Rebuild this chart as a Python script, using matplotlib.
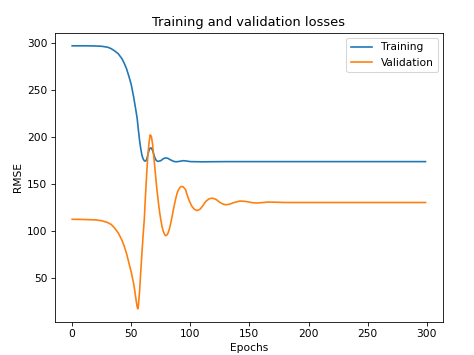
import matplotlib
matplotlib.use("Agg")
import matplotlib.pyplot as plt

# values
train_epochs = [0, 10, 20, 25, 30, 33, 36, 39, 42, 44, 46, 48, 50, 52, 54, 55, 56, 57, 58, 59,
                60, 61, 62, 63, 64, 65, 66, 67, 68, 69, 70, 71, 72, 73, 75, 77, 79, 81, 83, 86,
                88, 91, 94, 97, 100, 110, 130, 150, 200, 250, 299]
train_loss = [297.5, 297.5, 297.3, 297, 296, 294.5, 292, 289, 284, 279, 273, 265, 256, 243, 228, 220, 208, 197, 188, 181,
              177, 175, 174.5, 176, 181, 186, 188.5, 188.5, 186, 182, 178, 175.5, 174.5, 174.3, 175, 177, 178, 177.5, 176, 174.2,
              173.8, 174.3, 175, 174.6, 174, 173.8, 174, 174, 174, 174, 174]

val_epochs = [0, 10, 20, 25, 30, 33, 36, 39, 42, 44, 46, 48, 50, 52, 53, 54, 55, 55.5, 56, 57,
              58, 59, 60, 61, 62, 63, 64, 65, 66, 67, 68, 69, 70, 71, 72, 73, 74, 75, 76, 77,
              78, 79, 80, 81, 82, 83, 84, 85, 86, 87, 88, 89, 90, 91, 92, 93, 94, 96, 97, 99,
              101, 103, 105.5, 108, 110, 113, 116, 119, 122, 125, 128, 130, 133, 137, 142, 147, 152, 156, 160, 165,
              170, 180, 200, 250, 299]
val_loss = [112.5, 112.3, 111.8, 111, 109, 107, 103, 98, 90.5, 84, 76, 66, 56, 44, 36, 27, 19, 17, 20, 35,
            56, 76, 95, 112, 137, 160, 180, 194, 202.5, 201, 193, 180, 167, 153, 141, 130, 120, 112, 105, 100,
            97, 95, 95.5, 97.5, 101, 106, 112, 118.5, 125, 131, 136.5, 141, 144, 146, 147.3, 147.5, 147, 144, 139.5, 132.5,
            127, 123.5, 121.8, 123, 126, 131.5, 134.5, 135, 133.5, 130.5, 128.5, 128, 128.5, 130.4, 132, 131.5, 130.3, 129.8, 130.2, 130.8,
            130.8, 130.4, 130.4, 130.4, 130.4]

plt.rcParams['font.size'] = 10.4

fig, ax = plt.subplots(figsize=(474/74, 355/74), dpi=74)
fig.subplots_adjust(left=0.115, right=0.935, bottom=0.093, top=0.908)

ax.plot(train_epochs, train_loss, label="Training", lw=1.6)
ax.plot(val_epochs, val_loss, label="Validation", lw=1.6)
ax.set_title("Training and validation losses", fontsize=12.6)
ax.set_xlabel("Epochs")
ax.set_ylabel("RMSE")
ax.legend()

fig.savefig("out.png", dpi=74)
